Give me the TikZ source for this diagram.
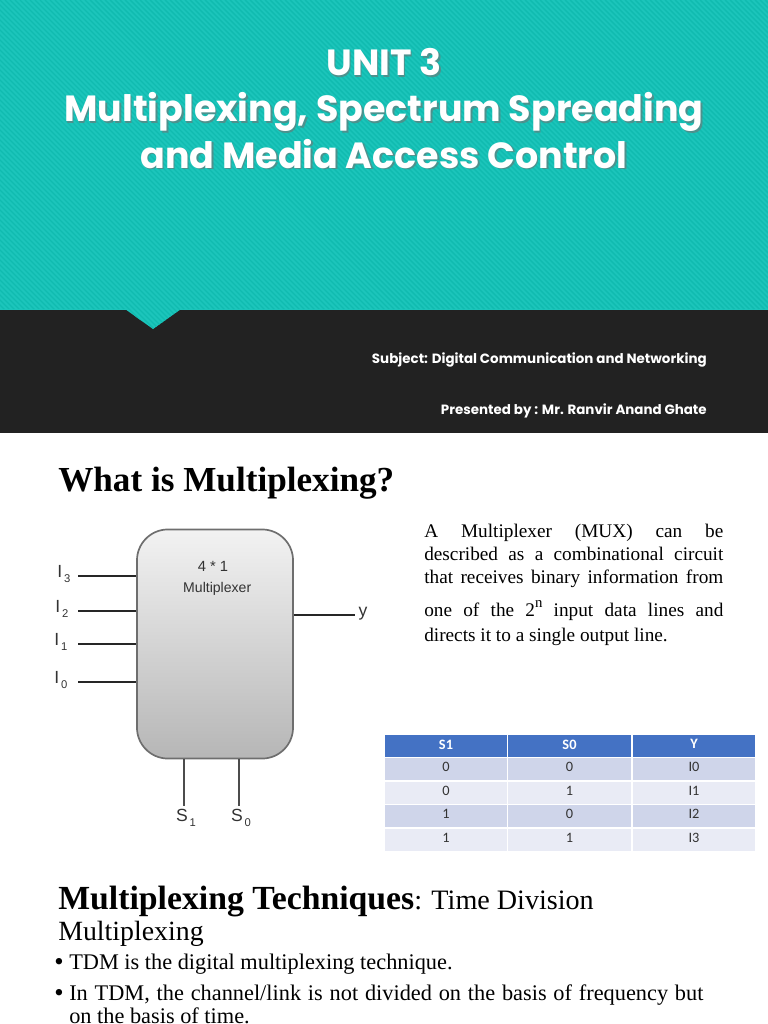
\documentclass[tikz,border=0pt]{standalone}
\usepackage{fontspec}
\setmainfont{Liberation Serif}
\newfontfamily\titlefont{Poppins}
\newfontfamily\tablefont{Carlito}
\newfontfamily\diagfont{Liberation Sans}
\usetikzlibrary{positioning,calc}
\definecolor{slideTeal}{HTML}{1CC5BB}
\definecolor{slideStripe}{HTML}{10BBB0}
\definecolor{slideDark}{HTML}{222222}
\definecolor{muxLine}{HTML}{6E6E6E}
\definecolor{muxLow}{HTML}{B6B6B6}
\definecolor{tableHead}{HTML}{4472C4}
\definecolor{tableOdd}{HTML}{CFD5EA}
\definecolor{tableEven}{HTML}{E9EBF5}
\newcommand{\lowsub}[2]{#1{\raisebox{-.55ex}{\fontsize{8}{8}\selectfont\,#2}}}
\tikzset{
  cell/.style={minimum width=122.5pt*.7114,minimum height=22pt*.7114,inner sep=0pt,font=\tablefont\fontsize{10.2}{11}\selectfont},
  titletext/.style={align=center,font=\titlefont\bfseries\fontsize{25.9}{33}\selectfont},
  presenter/.style={anchor=east,inner sep=0pt,text=white,font=\titlefont\bfseries\fontsize{9.55}{12}\selectfont},
  wire/.style={line width=1.1pt,draw=black!85},
  diaglabel/.style={inner sep=0pt,text=black!80,font=\diagfont\fontsize{12.5}{13}\selectfont},
  body/.style={anchor=base west,inner sep=0pt,font=\fontsize{15.88}{20}\selectfont}
}
\begin{document}
\begin{tikzpicture}[x=.025cm,y=-.025cm]
\useasboundingbox (0,0) rectangle (768,1024);
% top slide
\fill[slideTeal] (0,0) rectangle (768,310);
\fill[slideDark] (0,310) rectangle (768,433);
\fill[slideTeal] (125,309) -- (153,329) -- (181,309) -- cycle;
\begin{scope}
\clip (0,0) -- (768,0) -- (768,309) -- (181,309) -- (153,329) -- (125,309) -- (0,309) -- cycle;
\foreach \s in {-340,-335,...,768}{
  \draw[slideStripe,line width=1pt] (\s,0) -- ++(340,340);
}
\end{scope}
\node[titletext,text=black!55,opacity=.6] at (385.5,110) {UNIT 3\\Multiplexing, Spectrum Spreading\\and Media Access Control};
\node[titletext,text=white] (title) at (384,108.5) {UNIT 3\\Multiplexing, Spectrum Spreading\\and Media Access Control};
\node[presenter] (subject) at (707,360) {Subject: Digital Communication and Networking};
\node[presenter] (presented) at (707,411) {Presented by : Mr. Ranvir Anand Ghate};
% second slide
\node[anchor=base west,inner sep=0pt,font=\bfseries\fontsize{25}{30}\selectfont] (heading) at (58,491) {What is Multiplexing?};
\node[draw=muxLine,line width=1.2pt,rounded corners=22pt,top color=black!5,bottom color=muxLow,minimum width=156pt*.7114,minimum height=229pt*.7114,inner sep=0pt] (mux) at (215,644) {};
\node[diaglabel,font=\diagfont\fontsize{10.5}{12}\selectfont] (muxname) at (213,566) {4 * 1};
\node[diaglabel,font=\diagfont\fontsize{10}{12}\selectfont,below=11pt*.7114 of muxname,xshift=3pt] (muxname2) {Multiplexer};
\foreach \y/\n/\lx in {576/3/57,611/2/55,644/1/54,682/0/54}{
  \node[diaglabel,anchor=west] (i\n) at (\lx,\y-2) {\lowsub{I}{\n}};
  \coordinate (w\n) at (78,\y);
  \draw[wire] (w\n) -- (mux.west |- w\n);
}
\node[diaglabel] (y) at (363,614) {y};
\coordinate (wy) at (355,615);
\draw[wire] (mux.east |- wy) -- (wy);
\foreach \x/\n in {184/1,239/0}{
  \coordinate (t\n) at (\x,806);
  \draw[wire,draw=black!70] (mux.south -| t\n) -- (t\n);
  \node[diaglabel] (s\n) at (\x+2,818) {\lowsub{S}{\n}};
}
\node[anchor=north west,inner sep=0pt,text width=299pt*.7114,align=justify,font=\fontsize{13.7}{16.2}\selectfont] (desc) at (424,524) {A Multiplexer (MUX) can be\linebreak described as a combinational circuit\linebreak that receives binary information from\linebreak\rule[-7.1pt]{0pt}{27.1pt}one of the 2\raisebox{.5em}{\fontsize{10.5}{10.5}\selectfont n} input data lines and\linebreak directs it to a single output line.};
% table
\foreach \r/\y/\fillc/\a/\b/\c in {0/746/tableHead/S1/S0/Y,1/769/tableOdd/0/0/I0,2/792.5/tableEven/0/1/I1,3/816/tableOdd/1/0/I2,4/839.5/tableEven/1/1/I3}{
  \foreach \k/\x/\t in {a/446/\a,b/569.5/\b,c/694/\c}{
    \ifnum\r=0
      \node[cell,fill=\fillc,text=white] (r\r\k) at (\x,\y) {\raisebox{2.4pt}{\bfseries\t}};
    \else
      \node[cell,fill=\fillc,text=black!80] (r\r\k) at (\x,\y) {\raisebox{2.4pt}{\t}};
    \fi
  }
}
% third slide
\node[body,font=\bfseries\fontsize{24}{30}\selectfont] (tech) at (58,909) {Multiplexing Techniques{\mdseries\fontsize{20}{24}\selectfont: Time Division}};
\node[body,font=\fontsize{19.8}{24}\selectfont] (tech2) at (58,940) {Multiplexing};
\node[body] (b1) at (69,969) {TDM is the digital multiplexing technique.};
\node[body] (b2) at (69,1000.5) {\hbox to 451pt{In TDM, the channel/link is not divided on the basis of frequency but}};
\node[body] (b3) at (69,1023) {on the basis of time.};
\node[body,font=\fontsize{19}{20}\selectfont] (p1) at (54,970) {•};
\node[body,font=\fontsize{19}{20}\selectfont] (p2) at (54,1001.5) {•};
\end{tikzpicture}
\end{document}
